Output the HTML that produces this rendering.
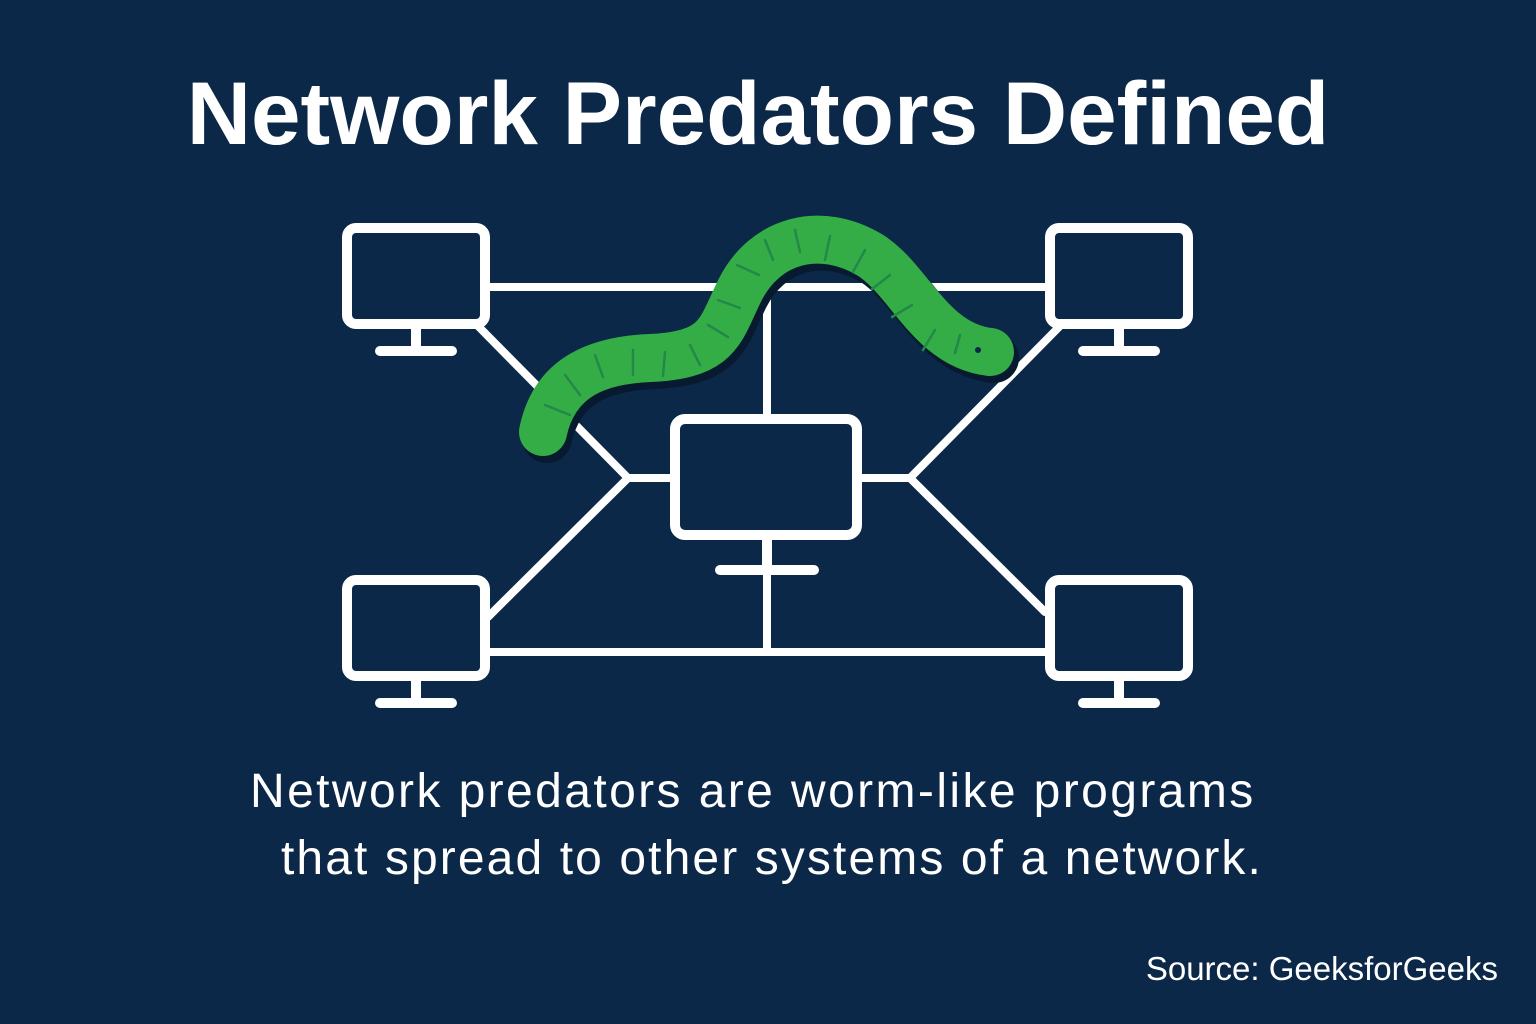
<!DOCTYPE html>
<html><head><meta charset="utf-8"><style>
html,body{margin:0;padding:0;background:#0c2848;}
body{width:1536px;height:1024px;position:relative;overflow:hidden;font-family:"Liberation Sans",sans-serif;color:#fff;}
.t{position:absolute;white-space:nowrap;}
</style></head><body>
<svg width="1536" height="1024" style="position:absolute;left:0;top:0">
<g stroke="#fff" stroke-width="8" fill="none" stroke-linecap="round">
<line x1="488" y1="287" x2="1047" y2="287"/>
<line x1="767" y1="300" x2="767" y2="416"/>
<line x1="478" y1="326" x2="628" y2="478"/>
<line x1="628" y1="478" x2="671" y2="478"/>
<line x1="628" y1="478" x2="488" y2="617"/>
<line x1="860" y1="478" x2="910" y2="478"/>
<line x1="910" y1="478" x2="1060" y2="326"/>
<line x1="910" y1="478" x2="1045" y2="612"/>
<line x1="488" y1="652" x2="1047" y2="652"/>
<line x1="767" y1="538" x2="767" y2="652"/>
</g>
<g stroke="#fff" stroke-width="10" fill="#0c2848" stroke-linecap="round">
<rect x="347" y="228" width="138" height="96" rx="9"/>
<line x1="416" y1="326" x2="416" y2="350"/><line x1="380" y1="351" x2="452" y2="351"/>
<rect x="1050" y="228" width="138" height="96" rx="9"/>
<line x1="1119" y1="326" x2="1119" y2="350"/><line x1="1083" y1="351" x2="1155" y2="351"/>
<rect x="347" y="580" width="138" height="96" rx="9"/>
<line x1="416" y1="678" x2="416" y2="702"/><line x1="380" y1="703" x2="452" y2="703"/>
<rect x="1050" y="580" width="138" height="96" rx="9"/>
<line x1="1119" y1="678" x2="1119" y2="702"/><line x1="1083" y1="703" x2="1155" y2="703"/>
<rect x="675" y="419" width="182" height="116" rx="10"/>
<line x1="767" y1="538" x2="767" y2="568"/><line x1="720" y1="570" x2="814" y2="570"/>
</g>
<path d="M543,432 C555,375 600,360 650,358 C720,355 720,330 740,290 C765,240 820,225 870,255 C910,280 930,345 990,352" stroke="#071a30" stroke-width="50" fill="none" stroke-linecap="round" transform="translate(4,6)"/>
<path d="M543,432 C555,375 600,360 650,358 C720,355 720,330 740,290 C765,240 820,225 870,255 C910,280 930,345 990,352" stroke="#34ad47" stroke-width="48" fill="none" stroke-linecap="round"/>
<g stroke="#23884a" stroke-width="2.5" fill="none" stroke-linecap="round">
<path d="M545,405 l25,10"/><path d="M565,375 l15,20"/><path d="M595,355 l8,22"/><path d="M633,350 l0,25"/><path d="M665,352 l-2,24"/><path d="M690,345 l10,20"/><path d="M708,325 l20,12"/><path d="M718,300 l22,8"/><path d="M737,265 l22,10"/><path d="M765,240 l8,20"/><path d="M795,230 l5,22"/><path d="M830,236 l-5,24"/><path d="M865,250 l-12,22"/><path d="M890,275 l-18,14"/><path d="M912,305 l-20,12"/><path d="M935,330 l-12,20"/><path d="M960,335 l-5,18"/>
</g>
<circle cx="978" cy="350" r="3" fill="#0c2848"/>
</svg>
<div class="t" style="left:0;width:1516px;text-align:center;top:62px;font-size:89px;font-weight:bold;">Network Predators Defined</div>
<div class="t" style="left:250px;top:764px;font-size:48px;letter-spacing:2.4px;">Network predators are worm-like programs</div>
<div class="t" style="left:281px;top:831px;font-size:48px;letter-spacing:2.1px;">that spread to other systems of a network.</div>
<div class="t" style="right:38px;top:950px;font-size:33px;">Source: GeeksforGeeks</div>
</body></html>
